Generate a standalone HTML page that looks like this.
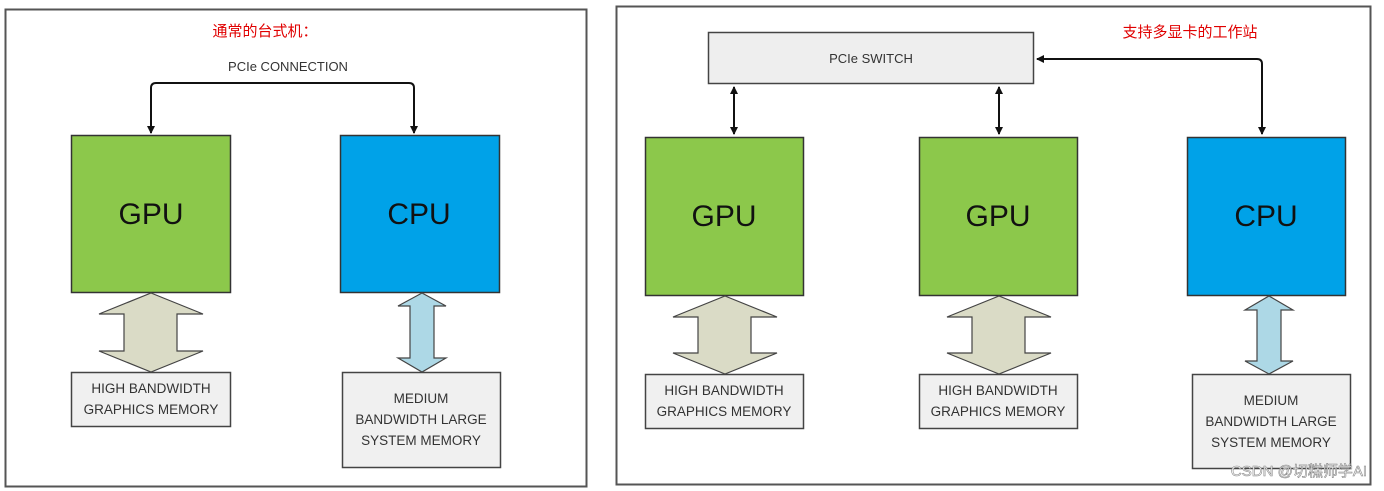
<!DOCTYPE html>
<html><head><meta charset="utf-8"><style>
html,body{margin:0;padding:0;background:#fff;}
svg{display:block;}
text{font-family:"Liberation Sans","Noto Sans CJK SC",sans-serif;}
</style></head><body>
<svg width="1384" height="491" viewBox="0 0 1384 491" xmlns="http://www.w3.org/2000/svg">
<defs>
<marker id="ah" markerWidth="8" markerHeight="8" refX="7" refY="4" orient="auto" markerUnits="userSpaceOnUse"><path d="M0,0 L8,4 L0,8 z" fill="#111"/></marker>
<marker id="ahs" markerWidth="8" markerHeight="8" refX="1" refY="4" orient="auto" markerUnits="userSpaceOnUse"><path d="M8,0 L0,4 L8,8 z" fill="#111"/></marker>
</defs>
<rect x="0" y="0" width="1384" height="491" fill="#fff"/>
<!-- Left panel -->
<rect x="5.5" y="9.5" width="581" height="477" fill="#fff" stroke="#555" stroke-width="2"/>
<text x="265" y="36" font-size="15" fill="#e00000" text-anchor="middle">通常的台式机：</text>
<text x="288" y="71" font-size="13" fill="#333" text-anchor="middle">PCIe CONNECTION</text>
<path d="M151,133 V88 Q151,83 156,83 H409 Q414,83 414,88 V133" fill="none" stroke="#111" stroke-width="2" marker-start="url(#ahs)" marker-end="url(#ah)"/>
<rect x="71.5" y="135.5" width="159" height="157" fill="#8cc84b" stroke="#333" stroke-width="1.5"/>
<text x="151" y="224" font-size="30" fill="#111" text-anchor="middle">GPU</text>
<rect x="340.5" y="135.5" width="159" height="157" fill="#00a2e8" stroke="#333" stroke-width="1.5"/>
<text x="419" y="224" font-size="30" fill="#111" text-anchor="middle">CPU</text>
<polygon points="151,293 203,314 177,314 177,351 203,351 151,372 99,351 124,351 124,314 99,314" fill="#dadbc6" stroke="#444" stroke-width="1.2"/>
<polygon points="422,293 446,306 434,306 434,358 446,358 422,372 398,358 410,358 410,306 398,306" fill="#add8e6" stroke="#444" stroke-width="1.2"/>
<rect x="71.5" y="372.5" width="159" height="54" fill="#f0f0f0" stroke="#444" stroke-width="1.5"/>
<text x="151" y="393" font-size="13.5" fill="#333" text-anchor="middle">HIGH BANDWIDTH</text>
<text x="151" y="414" font-size="13.5" fill="#333" text-anchor="middle">GRAPHICS MEMORY</text>
<rect x="342.5" y="372.5" width="158" height="95" fill="#f0f0f0" stroke="#444" stroke-width="1.5"/>
<text x="421" y="403" font-size="13.5" fill="#333" text-anchor="middle">MEDIUM</text>
<text x="421" y="424" font-size="13.5" fill="#333" text-anchor="middle">BANDWIDTH LARGE</text>
<text x="421" y="445" font-size="13.5" fill="#333" text-anchor="middle">SYSTEM MEMORY</text>
<!-- Right panel -->
<rect x="616.5" y="6.5" width="754" height="478" fill="#fff" stroke="#555" stroke-width="2"/>
<text x="1190" y="37" font-size="15" fill="#e00000" text-anchor="middle">支持多显卡的工作站</text>
<rect x="708.5" y="32.5" width="325" height="51" fill="#eeeeee" stroke="#444" stroke-width="1.5"/>
<text x="871" y="63" font-size="13" fill="#333" text-anchor="middle">PCIe SWITCH</text>
<line x1="734" y1="87" x2="734" y2="134" stroke="#111" stroke-width="2" marker-start="url(#ahs)" marker-end="url(#ah)"/>
<line x1="999" y1="87" x2="999" y2="134" stroke="#111" stroke-width="2" marker-start="url(#ahs)" marker-end="url(#ah)"/>
<path d="M1037,59 H1257 Q1262,59 1262,64 V134" fill="none" stroke="#111" stroke-width="2" marker-start="url(#ahs)" marker-end="url(#ah)"/>
<rect x="645.5" y="137.5" width="158" height="158" fill="#8cc84b" stroke="#333" stroke-width="1.5"/>
<text x="724" y="226" font-size="30" fill="#111" text-anchor="middle">GPU</text>
<rect x="919.5" y="137.5" width="158" height="158" fill="#8cc84b" stroke="#333" stroke-width="1.5"/>
<text x="998" y="226" font-size="30" fill="#111" text-anchor="middle">GPU</text>
<rect x="1187.5" y="137.5" width="158" height="158" fill="#00a2e8" stroke="#333" stroke-width="1.5"/>
<text x="1266" y="226" font-size="30" fill="#111" text-anchor="middle">CPU</text>
<polygon points="725,296 777,317 751,317 751,353 777,353 725,374 673,353 698,353 698,317 673,317" fill="#dadbc6" stroke="#444" stroke-width="1.2"/>
<polygon points="999,296 1051,317 1025,317 1025,353 1051,353 999,374 947,353 972,353 972,317 947,317" fill="#dadbc6" stroke="#444" stroke-width="1.2"/>
<polygon points="1269,296 1293,310 1281,310 1281,361 1293,361 1269,374 1245,361 1257,361 1257,310 1245,310" fill="#add8e6" stroke="#444" stroke-width="1.2"/>
<rect x="645.5" y="374.5" width="158" height="54" fill="#f0f0f0" stroke="#444" stroke-width="1.5"/>
<text x="724" y="395" font-size="13.5" fill="#333" text-anchor="middle">HIGH BANDWIDTH</text>
<text x="724" y="416" font-size="13.5" fill="#333" text-anchor="middle">GRAPHICS MEMORY</text>
<rect x="919.5" y="374.5" width="158" height="54" fill="#f0f0f0" stroke="#444" stroke-width="1.5"/>
<text x="998" y="395" font-size="13.5" fill="#333" text-anchor="middle">HIGH BANDWIDTH</text>
<text x="998" y="416" font-size="13.5" fill="#333" text-anchor="middle">GRAPHICS MEMORY</text>
<rect x="1192.5" y="374.5" width="158" height="94" fill="#f0f0f0" stroke="#444" stroke-width="1.5"/>
<text x="1271" y="405" font-size="13.5" fill="#333" text-anchor="middle">MEDIUM</text>
<text x="1271" y="426" font-size="13.5" fill="#333" text-anchor="middle">BANDWIDTH LARGE</text>
<text x="1271" y="447" font-size="13.5" fill="#333" text-anchor="middle">SYSTEM MEMORY</text>
<text x="1367" y="476" font-size="15" fill="#fff" stroke="#888" stroke-width="0.6" text-anchor="end">CSDN @切糕师学AI</text>
</svg>
</body></html>
